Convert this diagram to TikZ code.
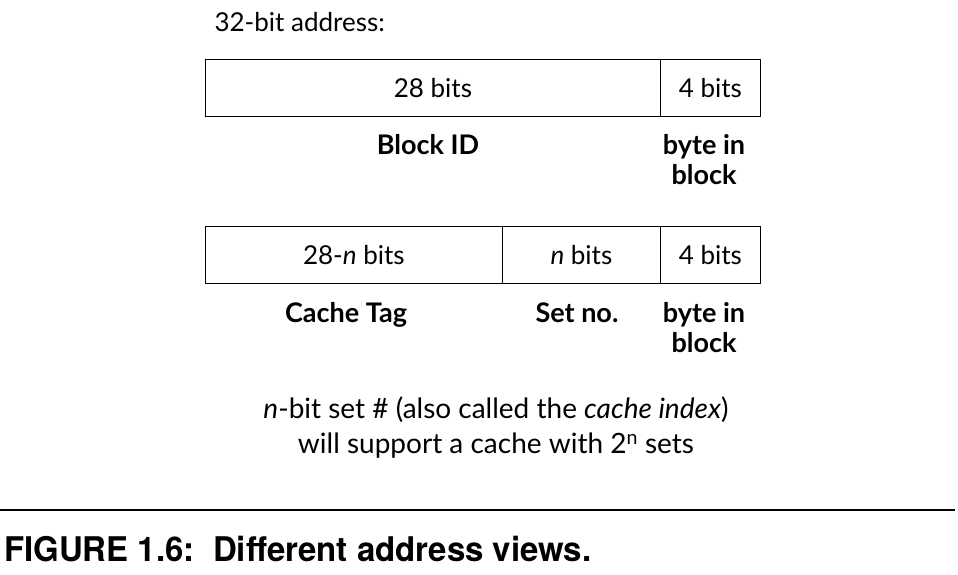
\documentclass[tikz,border=0pt]{standalone}
\usepackage{fontspec}
\setmainfont{Lato}
\newfontfamily\capfont[FakeStretch=0.97]{TeX Gyre Heros}
\begin{document}
\begin{tikzpicture}[x=1pt,y=-1pt,
  fld/.style={draw,line width=0.8pt,minimum height=57pt,inner sep=0pt,anchor=north west,font=\fontsize{26}{29}\selectfont},
  lbl/.style={font=\fontsize{27}{30}\selectfont\bfseries,align=center,anchor=north},
  txt/.style={font=\fontsize{26}{30}\selectfont}]
\useasboundingbox (0,0) rectangle (958,574);
\node[txt,anchor=west] (t) at (211,22) {32-bit address:};
\node[fld,minimum width=455pt] (a) at (205,59) {28 bits};
\node[fld,minimum width=100pt] (b) at (660,59) {4 bits};
\node[lbl] (l1) at (428,131) {Block ID};
\node[lbl] (l2) at (704,131) {byte in\\block};
\node[fld,minimum width=297pt] (c) at (205,226) {28-\textit{n} bits};
\node[fld,minimum width=158pt] (d) at (502,226) {\textit{n} bits};
\node[fld,minimum width=100pt] (e) at (660,226) {4 bits};
\node[lbl] (l3) at (346,299) {Cache Tag};
\node[lbl] (l4) at (577,299) {Set no.};
\node[lbl] (l5) at (704,299) {byte in\\block};
\node[txt,align=center,font=\fontsize{28}{31}\selectfont] (n) at (496,428) {\textit{n}-bit set \# (also called the \textit{cache index})\\[4pt]will support a cache with 2\textsuperscript{n} sets};
\coordinate (r1) at (0,510); \coordinate (r2) at (955,510);
\draw[line width=1.2pt] (r1) -- (r2);
\node[anchor=west,inner sep=0pt,font=\capfont\fontsize{34}{36}\selectfont\bfseries] (cap) at (4,549) {FIGURE 1.6:\ \ Different address views.};
\end{tikzpicture}
\end{document}
